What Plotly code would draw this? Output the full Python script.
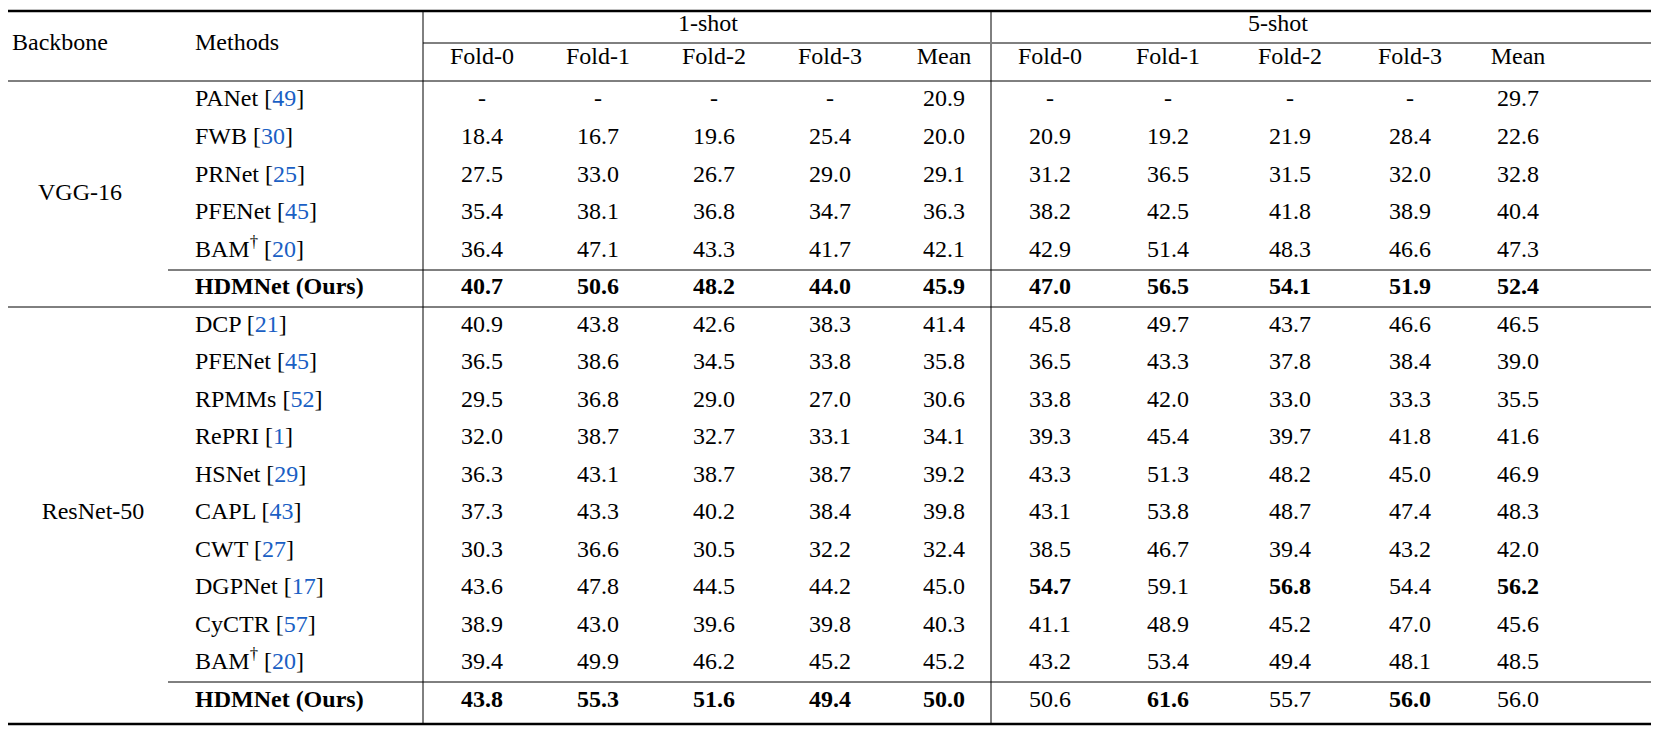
import plotly.graph_objects as go

# ---- data -------------------------------------------------------------------
backbones = ["VGG-16", "ResNet-50"]
methods = ["PANet", "FWB", "PRNet", "PFENet", "BAM†", "HDMNet (Ours)",
           "DCP", "PFENet", "RPMMs", "RePRI", "HSNet", "CAPL", "CWT",
           "DGPNet", "CyCTR", "BAM†", "HDMNet (Ours)"]
refs = ["49", "30", "25", "45", "20", "", "21", "45", "52", "1", "29", "43",
        "27", "17", "57", "20", ""]
col_labels = ["Fold-0", "Fold-1", "Fold-2", "Fold-3", "Mean"] * 2

one_shot = [
    ["-", "-", "-", "-", "20.9"],
    ["18.4", "16.7", "19.6", "25.4", "20.0"],
    ["27.5", "33.0", "26.7", "29.0", "29.1"],
    ["35.4", "38.1", "36.8", "34.7", "36.3"],
    ["36.4", "47.1", "43.3", "41.7", "42.1"],
    ["40.7", "50.6", "48.2", "44.0", "45.9"],
    ["40.9", "43.8", "42.6", "38.3", "41.4"],
    ["36.5", "38.6", "34.5", "33.8", "35.8"],
    ["29.5", "36.8", "29.0", "27.0", "30.6"],
    ["32.0", "38.7", "32.7", "33.1", "34.1"],
    ["36.3", "43.1", "38.7", "38.7", "39.2"],
    ["37.3", "43.3", "40.2", "38.4", "39.8"],
    ["30.3", "36.6", "30.5", "32.2", "32.4"],
    ["43.6", "47.8", "44.5", "44.2", "45.0"],
    ["38.9", "43.0", "39.6", "39.8", "40.3"],
    ["39.4", "49.9", "46.2", "45.2", "45.2"],
    ["43.8", "55.3", "51.6", "49.4", "50.0"],
]
five_shot = [
    ["-", "-", "-", "-", "29.7"],
    ["20.9", "19.2", "21.9", "28.4", "22.6"],
    ["31.2", "36.5", "31.5", "32.0", "32.8"],
    ["38.2", "42.5", "41.8", "38.9", "40.4"],
    ["42.9", "51.4", "48.3", "46.6", "47.3"],
    ["47.0", "56.5", "54.1", "51.9", "52.4"],
    ["45.8", "49.7", "43.7", "46.6", "46.5"],
    ["36.5", "43.3", "37.8", "38.4", "39.0"],
    ["33.8", "42.0", "33.0", "33.3", "35.5"],
    ["39.3", "45.4", "39.7", "41.8", "41.6"],
    ["43.3", "51.3", "48.2", "45.0", "46.9"],
    ["43.1", "53.8", "48.7", "47.4", "48.3"],
    ["38.5", "46.7", "39.4", "43.2", "42.0"],
    ["54.7", "59.1", "56.8", "54.4", "56.2"],
    ["41.1", "48.9", "45.2", "47.0", "45.6"],
    ["43.2", "53.4", "49.4", "48.1", "48.5"],
    ["50.6", "61.6", "55.7", "56.0", "56.0"],
]
# (row, col) of bold cells; cols 0-9 over 1-shot then 5-shot
bold_cells = ({(5, c) for c in range(10)} | {(16, c) for c in range(5)}
              | {(13, 5), (13, 7), (13, 9), (16, 6), (16, 8)})

# ---- layout -----------------------------------------------------------------
W, H = 1659, 738
FONT = "Liberation Serif"
FS = 24
BLUE = "#1a5fc4"
row_y = [92, 130, 168, 205, 243, 280, 318, 355, 393, 430, 468, 505, 543,
         580, 618, 655, 693]
col_x = [474, 590, 706, 822, 936, 1042, 1160, 1282, 1402, 1510]

fig = go.Figure()

def txt(x, y, s, pos="middle center"):
    fig.add_trace(go.Scatter(x=x, y=y, text=s, mode="text", textposition=pos,
                             textfont=dict(family=FONT, size=FS, color="black"),
                             hoverinfo="skip", showlegend=False))

# header
txt([4, 187], [36, 36], ["Backbone", "Methods"], "middle right")
txt([700, 1270], [17, 17], ["1-shot", "5-shot"])
txt(col_x, [50] * 10, col_labels)

# methods
labels = []
for m, r in zip(methods, refs):
    if r == "":
        labels.append("<b>%s</b>" % m)
    else:
        m = m.replace("†", "<sup>†</sup>")
        labels.append("%s [<span style='color:%s'>%s</span>]" % (m, BLUE, r))
txt([187] * len(methods), row_y, labels, "middle right")

# backbones
txt([72, 85], [186, 505], backbones)

# numbers
for c in range(10):
    vals = [(one_shot[r] if c < 5 else five_shot[r])[c % 5] for r in range(len(methods))]
    vals = ["<b>%s</b>" % v if (r, c) in bold_cells else v for r, v in enumerate(vals)]
    txt([col_x[c]] * len(vals), row_y, vals)

# rules
def hline(x0, x1, y, w=1):
    fig.add_shape(type="line", x0=x0, x1=x1, y0=y, y1=y, line=dict(color="black", width=w))

hline(0, W, 3, 2.5)
hline(415, 982, 35)
hline(984, W, 35)
hline(0, W, 73)
hline(160, W, 262)
hline(0, W, 299)
hline(160, W, 674)
hline(0, W, 716, 2.5)
for x in (415, 983):
    fig.add_shape(type="line", x0=x, x1=x, y0=3, y1=716, line=dict(color="black", width=1))

fig.update_xaxes(range=[0, W], visible=False)
fig.update_yaxes(range=[H, 0], visible=False)
fig.update_layout(width=W, height=H, margin=dict(l=0, r=0, t=0, b=0),
                  plot_bgcolor="white", paper_bgcolor="white")
fig.write_html("out.html")
